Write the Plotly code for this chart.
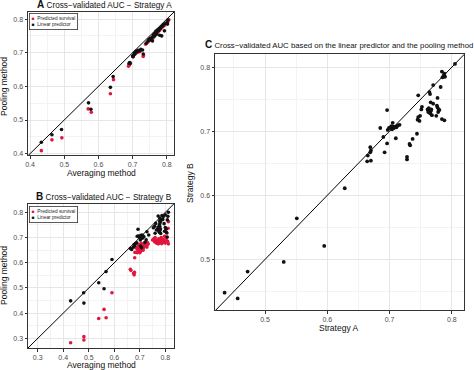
import plotly.graph_objects as go

W, H = 474, 370

# ---------------- Data ----------------
# Panel A: Strategy A, averaging (x) vs pooling (y)
a_ps_x = [0.433, 0.464, 0.493, 0.570, 0.579, 0.635, 0.644,
          0.688, 0.689, 0.690, 0.691,
          0.702, 0.706, 0.712, 0.718, 0.731, 0.732, 0.722,
          0.738, 0.742, 0.746, 0.750, 0.754, 0.757, 0.761, 0.764, 0.767, 0.770,
          0.773, 0.777, 0.780, 0.784, 0.788, 0.792, 0.797, 0.803, 0.806, 0.760, 0.771]
a_ps_y = [0.409, 0.441, 0.447, 0.533, 0.523, 0.578, 0.620,
          0.660, 0.663, 0.667, 0.665,
          0.688, 0.695, 0.700, 0.702, 0.689, 0.693, 0.704,
          0.725, 0.730, 0.733, 0.737, 0.741, 0.745, 0.748, 0.752, 0.756, 0.759,
          0.762, 0.765, 0.768, 0.773, 0.777, 0.780, 0.786, 0.792, 0.798, 0.744, 0.757]
a_lp_x = [0.433, 0.464, 0.492, 0.571, 0.578, 0.635, 0.643,
          0.690, 0.692, 0.693,
          0.700, 0.703, 0.705, 0.707, 0.710, 0.713, 0.716, 0.720, 0.724, 0.729, 0.731, 0.701,
          0.740, 0.745, 0.748, 0.752, 0.755, 0.758, 0.760, 0.762, 0.765, 0.767, 0.768,
          0.770, 0.772, 0.774, 0.776, 0.778, 0.780, 0.782, 0.785, 0.788, 0.790, 0.795,
          0.800, 0.802, 0.779, 0.785, 0.793, 0.770, 0.764, 0.750, 0.758, 0.803]
a_lp_y = [0.434, 0.456, 0.472, 0.551, 0.532, 0.597, 0.629,
          0.669, 0.671, 0.668,
          0.690, 0.693, 0.700, 0.697, 0.705, 0.703, 0.707, 0.706, 0.710, 0.708, 0.696, 0.688,
          0.728, 0.735, 0.740, 0.743, 0.740, 0.746, 0.750, 0.755, 0.757, 0.760, 0.764,
          0.762, 0.766, 0.768, 0.765, 0.770, 0.772, 0.775, 0.778, 0.780, 0.784, 0.786,
          0.790, 0.785, 0.752, 0.750, 0.765, 0.755, 0.749, 0.738, 0.735, 0.797]

# Panel B: Strategy B, averaging (x) vs pooling (y)
b_ps_x = [0.429, 0.481, 0.481, 0.539, 0.560, 0.568, 0.591, 0.663, 0.665, 0.676, 0.678, 0.679,
          0.680, 0.681,
          0.685, 0.690, 0.693, 0.695, 0.698, 0.700, 0.703, 0.705, 0.708, 0.710, 0.712, 0.715,
          0.718, 0.720, 0.722, 0.725, 0.728, 0.730, 0.733, 0.690, 0.700, 0.713, 0.706, 0.697,
          0.750, 0.755, 0.758, 0.762, 0.765, 0.768, 0.770, 0.772, 0.774, 0.776, 0.778, 0.780,
          0.782, 0.784, 0.786, 0.788, 0.790, 0.793, 0.796, 0.800, 0.803, 0.806, 0.809, 0.812,
          0.811, 0.806, 0.797, 0.760, 0.812]
b_ps_y = [0.283, 0.307, 0.294, 0.379, 0.415, 0.382, 0.481, 0.574, 0.570, 0.558, 0.552, 0.562,
          0.620, 0.641,
          0.660, 0.655, 0.648, 0.665, 0.660, 0.652, 0.645, 0.670, 0.662, 0.656, 0.668, 0.660,
          0.672, 0.665, 0.678, 0.670, 0.662, 0.680, 0.674, 0.640, 0.640, 0.650, 0.677, 0.672,
          0.690, 0.695, 0.683, 0.687, 0.678, 0.690, 0.682, 0.675, 0.695, 0.685, 0.678, 0.690,
          0.682, 0.700, 0.676, 0.688, 0.680, 0.692, 0.684, 0.678, 0.690, 0.700, 0.685, 0.763,
          0.737, 0.717, 0.705, 0.700, 0.675]
b_lp_x = [0.429, 0.480, 0.481, 0.539, 0.560, 0.568, 0.591, 0.663, 0.668, 0.675, 0.680, 0.678,
          0.682, 0.690, 0.693, 0.695, 0.700, 0.704, 0.708, 0.712, 0.716, 0.698, 0.702, 0.710,
          0.720, 0.725, 0.728, 0.735, 0.703, 0.707, 0.688,
          0.753, 0.758, 0.762, 0.765, 0.770, 0.772, 0.774, 0.775, 0.776, 0.777, 0.778, 0.779,
          0.780, 0.781, 0.782, 0.785, 0.787, 0.790, 0.795, 0.800, 0.805, 0.808, 0.812, 0.810,
          0.800, 0.792, 0.803, 0.797, 0.807, 0.772, 0.760, 0.777, 0.778, 0.779]
b_lp_y = [0.449, 0.481, 0.440, 0.521, 0.497, 0.565, 0.613, 0.657, 0.653, 0.662, 0.668, 0.672,
          0.675, 0.705, 0.733, 0.706, 0.705, 0.708, 0.710, 0.707, 0.703, 0.700, 0.690, 0.697,
          0.681, 0.691, 0.723, 0.710, 0.666, 0.660, 0.679,
          0.739, 0.745, 0.756, 0.730, 0.735, 0.742, 0.738, 0.725, 0.732, 0.720, 0.745, 0.728,
          0.760, 0.735, 0.716, 0.770, 0.787, 0.772, 0.755, 0.740, 0.720, 0.770, 0.800, 0.784,
          0.790, 0.783, 0.733, 0.725, 0.702, 0.785, 0.717, 0.752, 0.765, 0.776]

# Panel C: linear predictor, pooling method, Strategy A (x) vs Strategy B (y)
c_x = [0.435, 0.456, 0.472, 0.530, 0.551, 0.595, 0.628,
       0.664, 0.665, 0.670, 0.669, 0.670, 0.669,
       0.692, 0.696, 0.690, 0.685, 0.696, 0.697, 0.699, 0.701, 0.703, 0.705, 0.707, 0.709,
       0.711, 0.713, 0.716, 0.704, 0.710, 0.706,
       0.728, 0.728, 0.732, 0.733, 0.737, 0.744, 0.745, 0.748, 0.746, 0.749, 0.751, 0.752, 0.746,
       0.762, 0.764, 0.765, 0.763, 0.766, 0.761, 0.767,
       0.768, 0.775, 0.778, 0.779, 0.777, 0.780, 0.776, 0.766, 0.770,
       0.764, 0.765, 0.770, 0.782, 0.777,
       0.784, 0.788, 0.789, 0.785, 0.787,
       0.784, 0.788, 0.805]
c_y = [0.448, 0.439, 0.481, 0.496, 0.564, 0.521, 0.611,
       0.653, 0.662, 0.654, 0.675, 0.670, 0.667,
       0.667, 0.681, 0.691, 0.705, 0.733, 0.702, 0.705, 0.706, 0.708, 0.713, 0.705, 0.707,
       0.706, 0.709, 0.710, 0.703, 0.689, 0.707,
       0.660, 0.656, 0.680, 0.678, 0.688, 0.696, 0.718, 0.716, 0.722, 0.724, 0.734, 0.738, 0.756,
       0.730, 0.733, 0.728, 0.736, 0.731, 0.734, 0.734,
       0.725, 0.724, 0.730, 0.734, 0.737, 0.733, 0.740, 0.745, 0.743,
       0.761, 0.758, 0.772, 0.769, 0.752,
       0.793, 0.790, 0.785, 0.784, 0.787,
       0.719, 0.717, 0.805]

ticks_a = [0.4, 0.5, 0.6, 0.7, 0.8]
ticks_b = [0.3, 0.4, 0.5, 0.6, 0.7, 0.8]
ticks_c = [0.5, 0.6, 0.7, 0.8]

RED = "#e2163d"
BLACK = "#111111"
FONT = "Liberation Sans"

# ---------------- Figure ----------------
fig = go.Figure()

def add_scatter(x, y, color, name, xa, ya, size=3.6):
    fig.add_trace(go.Scatter(x=x, y=y, mode="markers", name=name,
                             marker=dict(color=color, size=size, line=dict(width=0)),
                             xaxis=xa, yaxis=ya, showlegend=False))

def add_diag(xa, ya):
    fig.add_trace(go.Scatter(x=[0, 1], y=[0, 1], mode="lines",
                             line=dict(color="black", width=1),
                             xaxis=xa, yaxis=ya, showlegend=False, hoverinfo="skip"))

add_diag("x", "y")
add_scatter(a_ps_x, a_ps_y, RED, "Predicted survival", "x", "y")
add_scatter(a_lp_x, a_lp_y, BLACK, "Linear predictor", "x", "y")
add_diag("x2", "y2")
add_scatter(b_ps_x, b_ps_y, RED, "Predicted survival", "x2", "y2")
add_scatter(b_lp_x, b_lp_y, BLACK, "Linear predictor", "x2", "y2")
add_diag("x3", "y3")
add_scatter(c_x, c_y, BLACK, "Linear predictor", "x3", "y3", size=3.8)

def px_x(p):
    return p / W

def px_y(p):
    return 1 - p / H

def axis(domain, rng, ticks, anchor):
    return dict(domain=domain, range=rng, autorange=False, anchor=anchor, automargin=False,
                tickvals=ticks, tickformat=".1f",
                showline=True, mirror=True, linecolor="#333333", linewidth=1,
                ticks="outside", ticklen=2.5, tickwidth=0.8, tickcolor="#333333",
                tickfont=dict(family=FONT, size=7, color="#4d4d4d"),
                showgrid=True, gridcolor="#e6e6e6", gridwidth=0.7,
                minor=dict(dtick=0.05, showgrid=True, gridcolor="#f3f3f3", gridwidth=0.4,
                           ticks=""),
                zeroline=False, fixedrange=True)

layout = dict(
    width=W, height=H, margin=dict(l=0, r=0, t=0, b=0, pad=0, autoexpand=False),
    paper_bgcolor="white", plot_bgcolor="white",
    font=dict(family=FONT, color="#222222"),
    xaxis=axis([px_x(28), px_x(174)], [0.394, 0.821], ticks_a, "y"),
    yaxis=axis([px_y(155), px_y(12)], [0.396, 0.821], ticks_a, "x"),
    xaxis2=axis([px_x(28), px_x(174)], [0.262, 0.834], ticks_b, "y2"),
    yaxis2=axis([px_y(348), px_y(204)], [0.262, 0.833], ticks_b, "x2"),
    xaxis3=axis([px_x(215), px_x(464.3)], [0.4196, 0.820], ticks_c, "y3"),
    yaxis3=axis([px_y(310), px_y(54.3)], [0.421, 0.820], ticks_c, "x3"),
    showlegend=False,
)
fig.update_layout(**layout)

def ann(text, x, y, size, xanchor="center", yanchor="middle", angle=0, color="#111111"):
    fig.add_annotation(text=text, x=x, y=y, xref="paper", yref="paper",
                       xanchor=xanchor, yanchor=yanchor, textangle=angle,
                       showarrow=False, font=dict(family=FONT, size=size, color=color))

big = "<span style='font-size:10px'><b>%s</b></span>"
ann(big % "A" + " Cross−validated AUC − Strategy A", px_x(35), px_y(5), 8.2, xanchor="left")
ann(big % "B" + " Cross−validated AUC − Strategy B", px_x(34), px_y(196), 8.2, xanchor="left")
ann(big % "C" + " Cross−validated AUC based on the linear predictor and the pooling method",
    px_x(203), px_y(45), 7.8, xanchor="left")

ann("Averaging method", px_x(101), px_y(173), 8.5)
ann("Averaging method", px_x(101), px_y(365), 8.5)
ann("Pooling method", px_x(4), px_y(87), 8.5, angle=-90)
ann("Pooling method", px_x(4), px_y(276), 8.5, angle=-90)
ann("Strategy A", px_x(339), px_y(328), 8.5)
ann("Strategy B", px_x(190), px_y(183), 8.5, angle=-90)

legend_text = ("<span style='color:%s'>■</span>  Predicted survival<br>"
               "<span style='color:%s'>■</span>  Linear predictor") % (RED, BLACK)
for top in (13, 205):
    fig.add_annotation(text=legend_text, x=px_x(28.5), y=px_y(top + 0.5), xref="paper", yref="paper",
                       xanchor="left", yanchor="top", align="left", showarrow=False,
                       font=dict(family=FONT, size=4.8, color="#222222"),
                       bordercolor="#333333", borderwidth=0.8, borderpad=2,
                       bgcolor="white")

fig.write_html("out.html", config={"displayModeBar": False},
               post_script="document.body.style.margin='0';document.body.style.padding='0';")
